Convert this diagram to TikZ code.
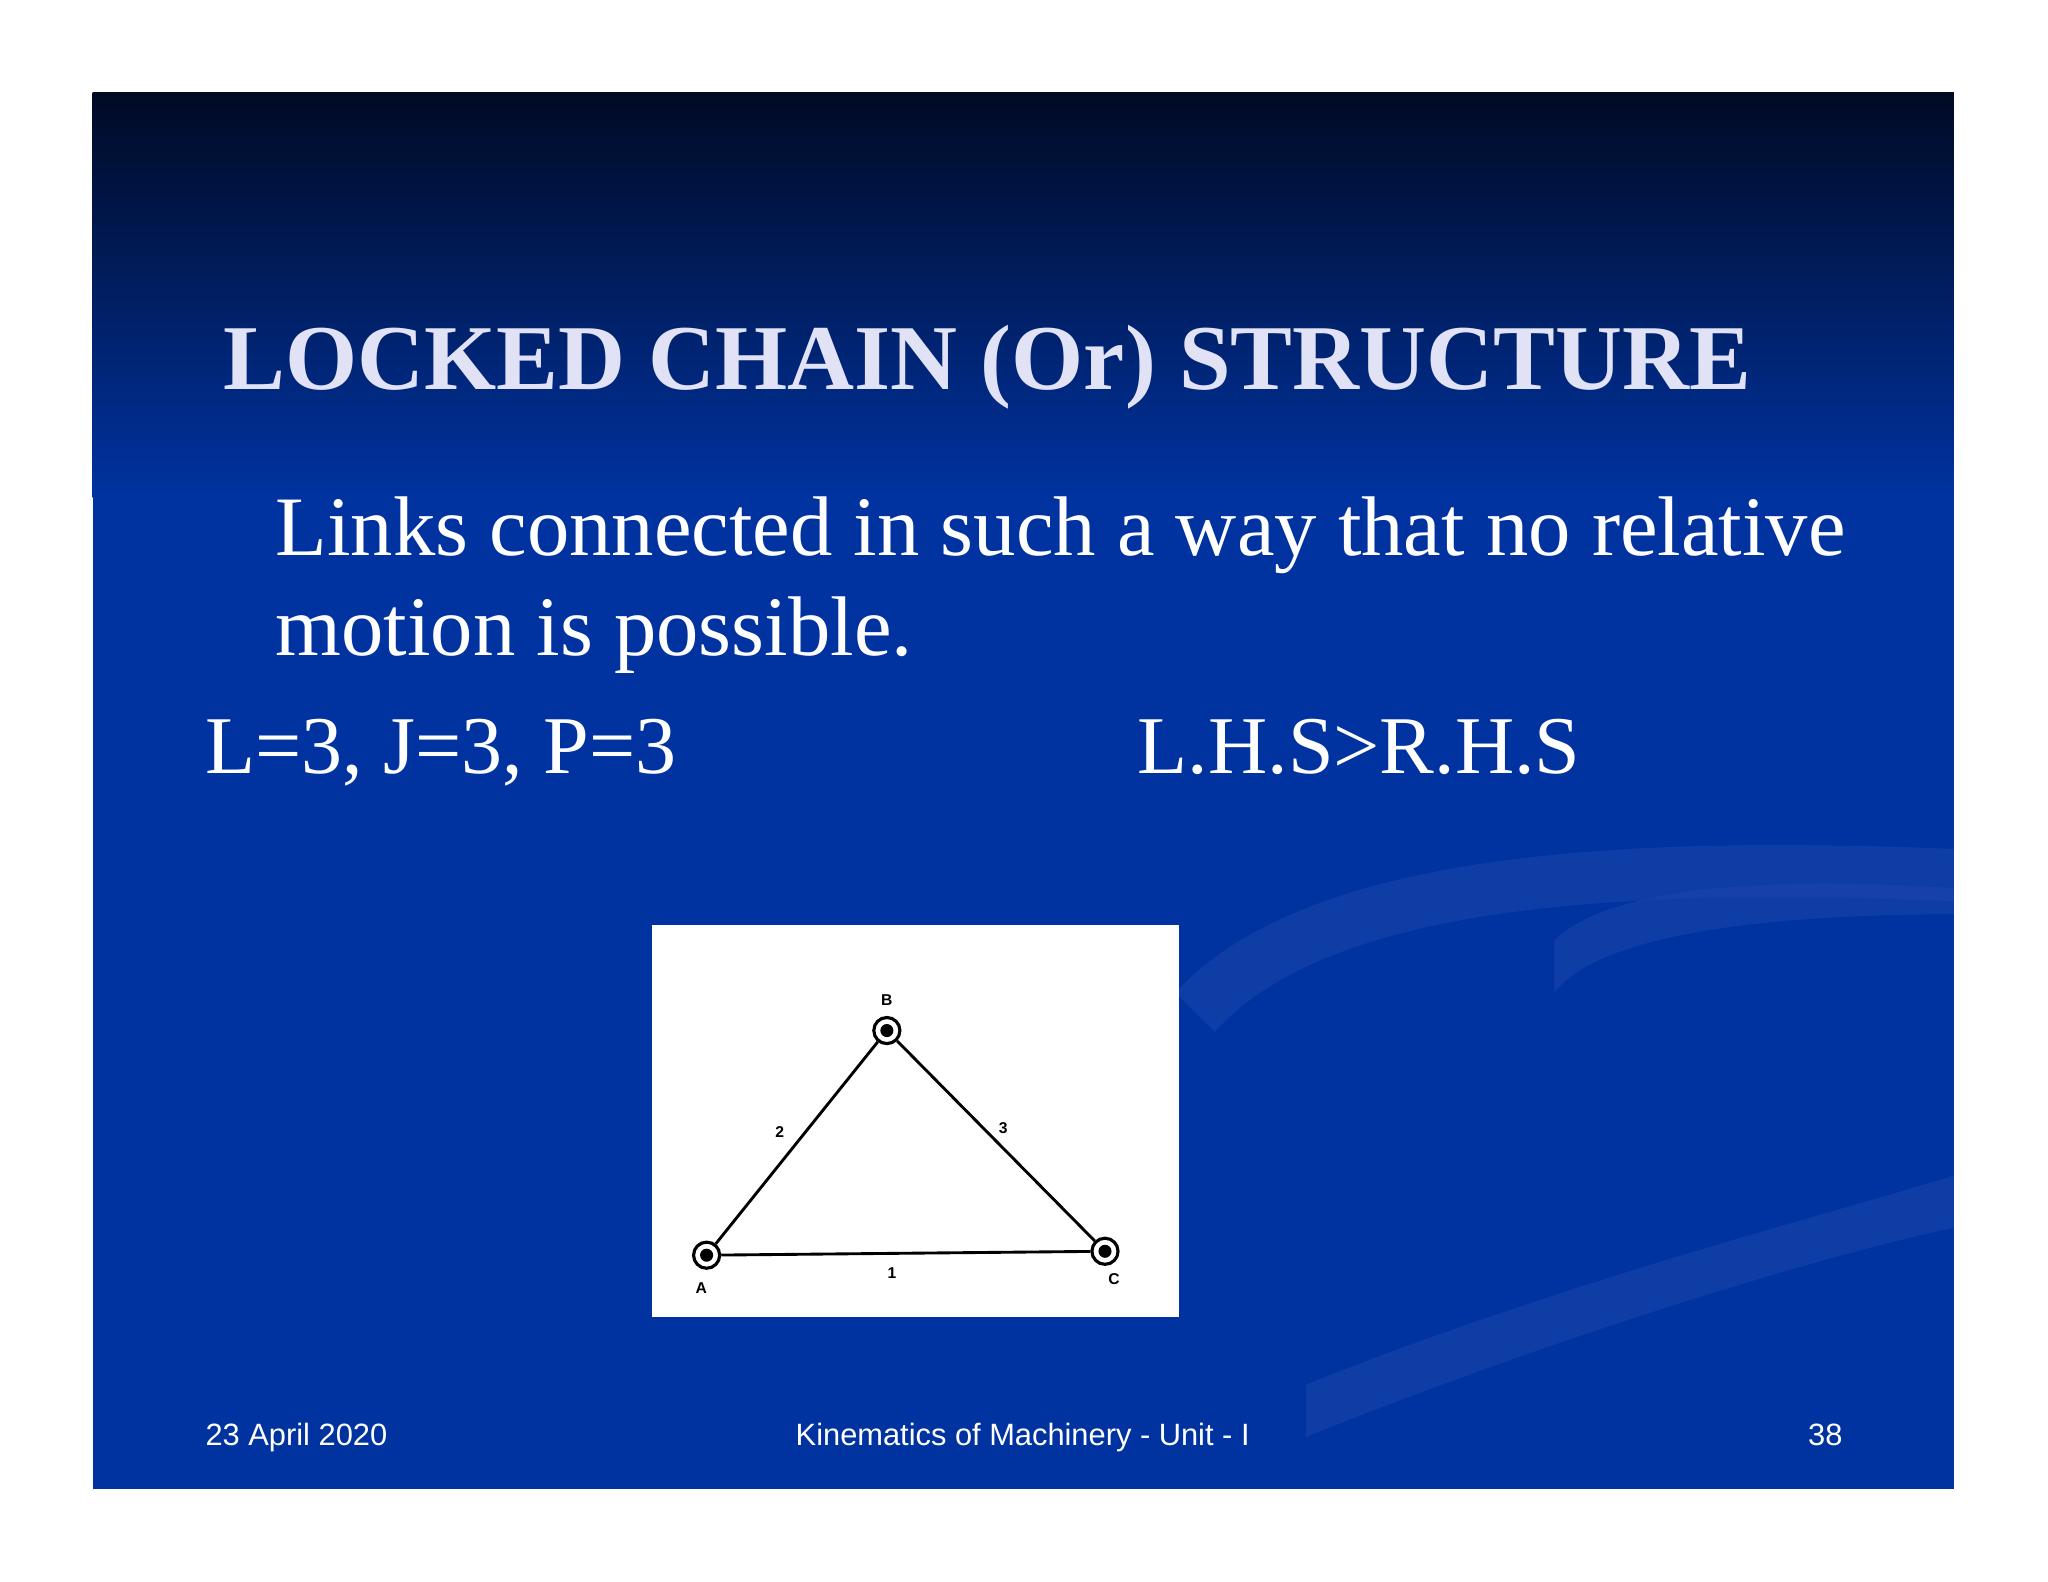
\documentclass[tikz,border=0pt]{standalone}
\usepackage{fontspec}
\setmainfont{Liberation Serif}
\newfontfamily\arialf{Liberation Sans}
\definecolor{slideblue}{HTML}{0033A0}
\definecolor{slidetop}{HTML}{000A24}
\definecolor{titlec}{HTML}{E2E2F6}
\definecolor{swirl}{HTML}{1A45AA}
\begin{document}
\begin{tikzpicture}[x=0.5pt,y=-0.5pt,
  jt/.style={circle,draw=black,line width=1.2pt,minimum size=10pt,inner sep=0pt},
  lbl/.style={font=\arialf\bfseries\fontsize{6}{7}\selectfont,text=black},
  foot/.style={font=\arialf\fontsize{11.8}{13}\selectfont,text=white,inner sep=0pt}]
\useasboundingbox (0,0) rectangle (1568,1211);
\fill[white] (0,0) rectangle (1568,1211);
\fill[slideblue] (71,71) rectangle (1496,1140);
\shade[top color=slidetop,bottom color=slideblue] (71,71) rectangle (1496,381);
% swirls
\begin{scope}
\clip (71,71) rectangle (1496,1140);
\fill[swirl,opacity=0.6] (900,760) .. controls (1000,650) and (1250,640) .. (1496,650) -- (1496,690) .. controls (1250,680) and (1020,690) .. (930,790) -- cycle;
\fill[swirl,opacity=0.6] (1190,720) .. controls (1230,680) and (1350,670) .. (1496,680) -- (1496,700) .. controls (1330,700) and (1220,720) .. (1190,760) -- cycle;
\fill[swirl,opacity=0.6] (1000,1060) .. controls (1200,980) and (1400,930) .. (1496,900) -- (1496,940) .. controls (1400,960) and (1200,1020) .. (1000,1100) -- cycle;
\end{scope}
% texts
\node[anchor=base west,text=titlec,font=\bfseries\fontsize{35.5}{40}\selectfont] (title) at (164,298) {LOCKED CHAIN (Or) STRUCTURE};
\node[anchor=base west,text=white,font=\fontsize{32.4}{38}\selectfont] (body1) at (204,425) {Links connected in such a way that no relative};
\node[anchor=base west,text=white,font=\fontsize{32.4}{38}\selectfont] (body2) at (204,502) {motion is possible.};
\node[anchor=base west,text=white,font=\fontsize{31.4}{34}\selectfont] (ljp) at (150,592) {L=3, J=3, P=3};
\node[anchor=base west,text=white,font=\fontsize{31.4}{34}\selectfont] (lhs) at (864,592) {L.H.S>R.H.S};
\node[foot,anchor=base west] (date) at (157,1107) {23 April 2020};
\node[foot,anchor=base] (ttl) at (783,1107) {Kinematics of Machinery - Unit - I};
\node[foot,anchor=base east] (pg) at (1411,1107) {38};
% picture
\fill[white] (499,708) rectangle (903,1008);
\node[jt] (A) at (541,961) {};
\node[jt] (B) at (679,789) {};
\node[jt] (C) at (846,958) {};
\fill (A) circle (2.5pt); \fill (B) circle (2.5pt); \fill (C) circle (2.5pt);
\draw[line width=1.1pt] (A) -- (B) -- (C) -- (A);
\node[lbl] at (537,986) {A};
\node[lbl] at (679,766) {B};
\node[lbl] at (853,979) {C};
\node[lbl] at (597,867) {2};
\node[lbl] at (768,864) {3};
\node[lbl] at (683,975) {1};
\end{tikzpicture}
\end{document}
